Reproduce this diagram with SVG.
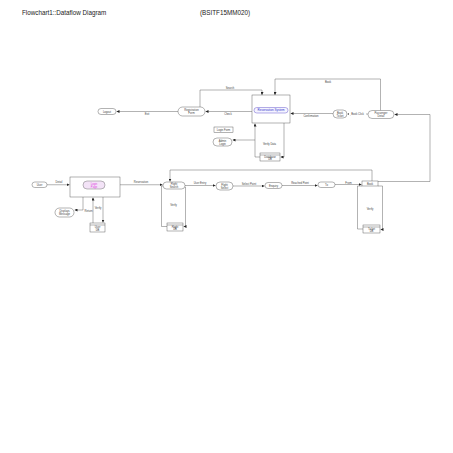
<svg xmlns="http://www.w3.org/2000/svg" width="453" height="453" viewBox="0 0 453 453">
<style>
.n{fill:#fff;stroke:#555;stroke-width:0.45}
.c{fill:none;stroke:#555;stroke-width:0.45}
.t{font-family:"Liberation Sans",Arial,sans-serif;font-size:2.7px;fill:#444;text-anchor:middle}
.h{font-family:"Liberation Sans",Arial,sans-serif;font-size:6.3px;fill:#222}
.bg{fill:#fff;stroke:none}
</style>
<defs>
<marker id="a" viewBox="0 0 6 6" refX="6" refY="3" markerWidth="3" markerHeight="3" markerUnits="userSpaceOnUse" orient="auto">
<path d="M0,0 L6,3 L0,6 z" fill="#222"/>
</marker>
</defs>
<rect width="453" height="453" fill="#fff"/>
<text class="h" x="22" y="14.5">Flowchart1::Dataflow Diagram</text>
<text class="h" x="200" y="14.5">(BSITF15MM020)</text>

<g id="connectors">
<polyline class="c" marker-end="url(#a)" points="178,111.5 116.5,111.5"/>
<polyline class="c" marker-end="url(#a)" points="252,111.5 205.5,111.5"/>
<polyline class="c" marker-end="url(#a)" points="200,107 200,90 262,90 262,95"/>
<polyline class="c" marker-end="url(#a)" points="380.5,110.5 380.5,79 275,79 275,95"/>
<polyline class="c" marker-end="url(#a)" points="333,113.5 290.5,113.5"/>
<polyline class="c" marker-end="url(#a)" points="368,114 347.5,114"/>
<polyline class="c" marker-end="url(#a)" points="378,181.5 430,181.5 430,114.5 394.5,114.5"/>
<polyline class="c" marker-end="url(#a)" points="260,157 255,157 255,123.5"/>
<polyline class="c" marker-end="url(#a)" points="255,140 232.5,140"/>
<polyline class="c" marker-end="url(#a)" points="284,123 284,157 280.5,157"/>
<polyline class="c" marker-end="url(#a)" points="47,184.75 69.5,184.75"/>
<polyline class="c" marker-end="url(#a)" points="120,184.75 162.5,184.75"/>
<polyline class="c" marker-end="url(#a)" points="83,197 83,210 74.5,210"/>
<polyline class="c" marker-end="url(#a)" points="93,223 93,197.5"/>
<polyline class="c" marker-end="url(#a)" points="103,197 103,222.5"/>
<polyline class="c" marker-end="url(#a)" points="372,181 372,170 170,170 170,181.5"/>
<polyline class="c" points="167,226.5 161.5,226.5 161.5,186 163,186"/>
<polyline class="c" marker-end="url(#a)" points="185,187 185.5,187 185.5,226.5 183.5,226.5"/>
<polyline class="c" marker-end="url(#a)" points="185,185.5 215.5,185.5"/>
<polyline class="c" marker-end="url(#a)" points="233,186 264.5,186"/>
<polyline class="c" marker-end="url(#a)" points="282,185.5 317.5,185.5"/>
<polyline class="c" marker-end="url(#a)" points="335,184.5 361.5,184.5"/>
<polyline class="c" points="363,229 357.5,229 357.5,186 362,186"/>
<polyline class="c" marker-end="url(#a)" points="378,186 382.5,186 382.5,229.5 380.5,229.5"/>
<text class="t" x="147" y="115">Exit</text>
<text class="t" x="228" y="115">Check</text>
<text class="t" x="230" y="88.5">Search</text>
<text class="t" x="328" y="82.5">Book</text>
<text class="t" x="311" y="116.5">Confirmation</text>
<rect class="bg" x="349" y="112" width="17" height="3.5"/>
<text class="t" x="357.5" y="115">Book Click</text>
<text class="t" x="269.5" y="144.5">Verify Data</text>
<text class="t" x="59" y="183">Detail</text>
<text class="t" x="141" y="183">Reservation</text>
<text class="t" x="88.5" y="212">Return</text>
<text class="t" x="98" y="209">Verify</text>
<text class="t" x="173.5" y="206">Verify</text>
<text class="t" x="200" y="184">User Entry</text>
<text class="t" x="249" y="184.5">Select Point</text>
<text class="t" x="300" y="184">Reached Point</text>
<text class="t" x="348.5" y="183.5">From</text>
<text class="t" x="370" y="210">Verify</text>
</g>

<g id="logout"><rect class="n" x="98" y="108.5" width="18" height="6" rx="3"/><text class="t" x="107" y="112.5">Logout</text></g>
<g id="registration-form"><rect class="n" x="178" y="107" width="27" height="9" rx="4.5"/><text class="t" x="191.5" y="111">Registration</text><text class="t" x="191.5" y="114.2">Form</text></g>
<g id="reservation-system"><rect class="n" x="252" y="95" width="38" height="28"/><rect x="254" y="107.5" width="34" height="5.5" rx="2.75" fill="#f4f4ff" stroke="#6a5acd" stroke-width="0.5"/><text class="t" x="271" y="111.3" style="fill:#3333cc;font-size:3px">Reservation System</text></g>
<g id="book-ticket"><rect class="n" x="333" y="110" width="14" height="8" rx="4"/><text class="t" x="340" y="113.5">Book</text><text class="t" x="340" y="116.7">Ticket</text></g>
<g id="passenger-detail"><rect class="n" x="368" y="110.5" width="26" height="8" rx="4"/><text class="t" x="381" y="114">Passenger</text><text class="t" x="381" y="117.2">Detail</text></g>
<g id="login-form"><rect class="n" x="214" y="127" width="19" height="5.5"/><text class="t" x="223.5" y="130.8">Login Form</text></g>
<g id="admin"><rect class="n" x="213" y="138" width="19" height="8" rx="4"/><text class="t" x="222.5" y="141.5">Admin</text><text class="t" x="222.5" y="144.7">Login</text></g>
<g id="database"><rect class="n" x="260" y="153" width="20" height="8"/><line class="c" x1="260" y1="155" x2="280" y2="155"/><text class="t" x="270" y="157.7">Database</text><text class="t" x="270" y="160.4">DB</text></g>

<g id="user"><rect class="n" x="32" y="182" width="15" height="5.5" rx="2.75"/><text class="t" x="39.5" y="185.8">User</text></g>
<g id="main"><rect class="n" x="70" y="177" width="50" height="20"/><rect x="83" y="181" width="22" height="8" rx="4" fill="#f3e3f7" stroke="#777" stroke-width="0.5"/><text class="t" x="94" y="184.5" style="fill:#e040e0">Login</text><text class="t" x="94" y="187.5" style="fill:#e040e0">Page</text></g>
<g id="displays-message"><rect class="n" x="55" y="208" width="19" height="9" rx="4.5"/><text class="t" x="64.5" y="212">Displays</text><text class="t" x="64.5" y="215.2">Message</text></g>
<g id="user-db"><rect class="n" x="90" y="223" width="15" height="9"/><line class="c" x1="90" y1="225" x2="105" y2="225"/><text class="t" x="97.5" y="228">User</text><text class="t" x="97.5" y="231">DB</text></g>
<g id="flight-search"><rect class="n" x="163" y="182" width="22" height="7" rx="3.5"/><text class="t" x="174" y="185">Flight</text><text class="t" x="174" y="188">Search</text></g>
<g id="flight-db"><rect class="n" x="167" y="223" width="16" height="8"/><line class="c" x1="167" y1="225" x2="183" y2="225"/><text class="t" x="175" y="227.7">Flight</text><text class="t" x="175" y="230.4">DB</text></g>
<g id="flight-select"><rect class="n" x="216" y="182" width="17" height="8" rx="4"/><text class="t" x="224.5" y="185.5">Flight</text><text class="t" x="224.5" y="188.7">Select</text></g>
<g id="enquiry"><rect class="n" x="265" y="182.5" width="17" height="6" rx="3"/><text class="t" x="273.5" y="186.5">Enquiry</text></g>
<g id="to"><rect class="n" x="318" y="182" width="17" height="5.5" rx="2.75"/><text class="t" x="326.5" y="185.8">To</text></g>
<g id="book"><rect class="n" x="362" y="181" width="16" height="5"/><text class="t" x="370" y="184.5">Book</text></g>
<g id="ticket-db"><rect class="n" x="363" y="225" width="17" height="8"/><line class="c" x1="363" y1="227" x2="380" y2="227"/><text class="t" x="371.5" y="229.7">Ticket</text><text class="t" x="371.5" y="232.4">DB</text></g>
</svg>
